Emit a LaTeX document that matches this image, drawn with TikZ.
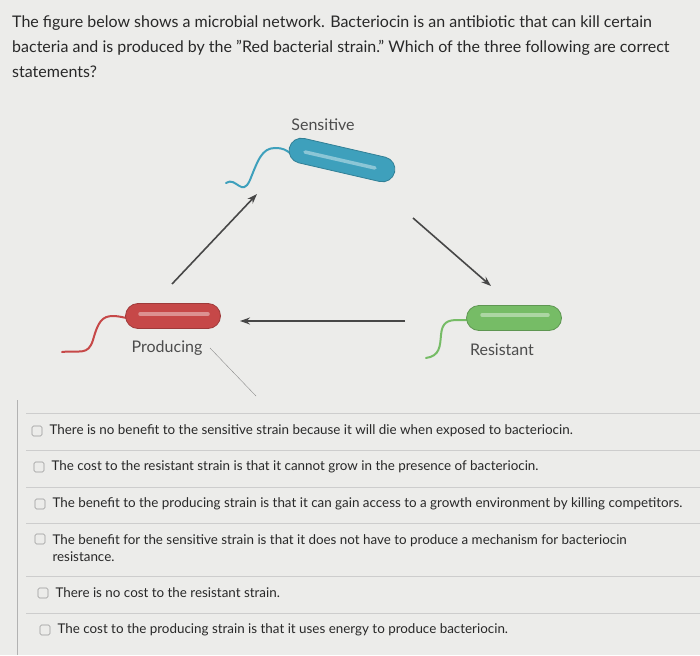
\documentclass[tikz,border=0pt]{standalone}
\usepackage{fontspec}
\setmainfont{Lato}
\usetikzlibrary{shapes.misc,arrows.meta}
\definecolor{bg}{RGB}{236,236,234}
\definecolor{sens}{RGB}{62,160,188}
\definecolor{prod}{RGB}{198,72,72}
\definecolor{resi}{RGB}{118,188,102}
\definecolor{txt}{RGB}{40,40,40}
\definecolor{sep}{RGB}{205,205,205}
\tikzset{
  rod/.style={rounded rectangle, minimum height=25pt, inner sep=0pt, draw=#1!80!black, line width=0.8pt, fill=#1},
  hl/.style={line width=3.5pt, white, opacity=0.4, line cap=round},
  flag/.style={line width=2pt, #1, line cap=round},
  arr/.style={-{Stealth[length=10pt,width=7pt]}, line width=1.6pt, black!72},
  lbl/.style={font=\fontsize{16}{18}\selectfont, text=black!70},
  opt/.style={anchor=west, font=\fontsize{13.4}{17}\selectfont, text=txt, align=left},
  box/.style={draw=black!40, rounded corners=1.5pt, minimum size=10pt, inner sep=0pt, line width=0.6pt},
}
\begin{document}
\begin{tikzpicture}[x=1pt,y=-1pt]
\fill[bg] (0,0) rectangle (700,655);
\useasboundingbox (0,0) rectangle (700,655);
\node[anchor=west, font=\fontsize{16}{25}\selectfont, text=txt, align=left, inner sep=0pt] (q) at (12,47)
{The figure below shows a microbial network. Bacteriocin is an antibiotic that can kill certain\\bacteria and is produced by the "Red bacterial strain." Which of the three following are correct\\statements?};
% sensitive
\draw[flag=sens] (226,183) .. controls (236,176) and (242,198) .. (250,180) .. controls (258,160) and (262,148) .. (275,148) .. controls (283,148) and (286,150) .. (290,153);
\node[rod=sens, minimum width=108pt, rotate=-13] (S) at (342,160) {};
\draw[hl] (305,152) -- (375,168);
\node[lbl] (Sl) at (323,125) {Sensitive};
% producing
\draw[flag=prod] (62,352) .. controls (80,350) and (88,356) .. (93,340) .. controls (98,322) and (102,316) .. (113,316) .. controls (120,316) and (124,318) .. (128,318);
\node[rod=prod, minimum width=95pt] (P) at (173,316) {};
\draw[hl] (140,314) -- (208,314);
\node[lbl] (Pl) at (167,348) {Producing};
% resistant
\draw[flag=resi] (426,358) .. controls (440,356) and (440,346) .. (441,335) .. controls (442,322) and (448,320) .. (458,320) .. controls (464,320) and (466,320) .. (469,320);
\node[rod=resi, minimum width=95pt] (R) at (514,318) {};
\draw[hl] (482,315) -- (548,315);
\node[lbl] (Rl) at (502,350) {Resistant};
% arrows
\coordinate (a1) at (172,284); \coordinate (a1e) at (257,194);
\coordinate (a2) at (413,218); \coordinate (a2e) at (491,286);
\coordinate (a3) at (405,321); \coordinate (a3e) at (240,321);
\draw[arr] (a1) -- (a1e);
\draw[arr] (a2) -- (a2e);
\draw[arr] (a3) -- (a3e);
\coordinate (g1) at (210,348); \coordinate (g2) at (256,396);
\draw[black!45, line width=0.4pt] (g1) -- (g2);
% options area
\draw[black!30, line width=1pt] (17,400) -- (17,655);
\foreach \y in {413,450,487,523,576,613} \draw[sep, line width=0.8pt] (26,\y) -- (700,\y);
\node[box] (b1) at (37,431) {}; \node[opt] (o1) at (46,431) {There is no benefit to the sensitive strain because it will die when exposed to bacteriocin.};
\node[box] (b2) at (39,467) {}; \node[opt] (o2) at (48,467) {The cost to the resistant strain is that it cannot grow in the presence of bacteriocin.};
\node[box] (b3) at (40,504) {}; \node[opt] (o3) at (49,504) {The benefit to the producing strain is that it can gain access to a growth environment by killing competitors.};
\node[box] (b4) at (40,539) {}; \node[opt] (o4) at (49,548) {The benefit for the sensitive strain is that it does not have to produce a mechanism for bacteriocin\\resistance.};
\node[box] (b5) at (43,593) {}; \node[opt] (o5) at (52,593) {There is no cost to the resistant strain.};
\node[box] (b6) at (45,630) {}; \node[opt] (o6) at (54,630) {The cost to the producing strain is that it uses energy to produce bacteriocin.};
\end{tikzpicture}
\end{document}
